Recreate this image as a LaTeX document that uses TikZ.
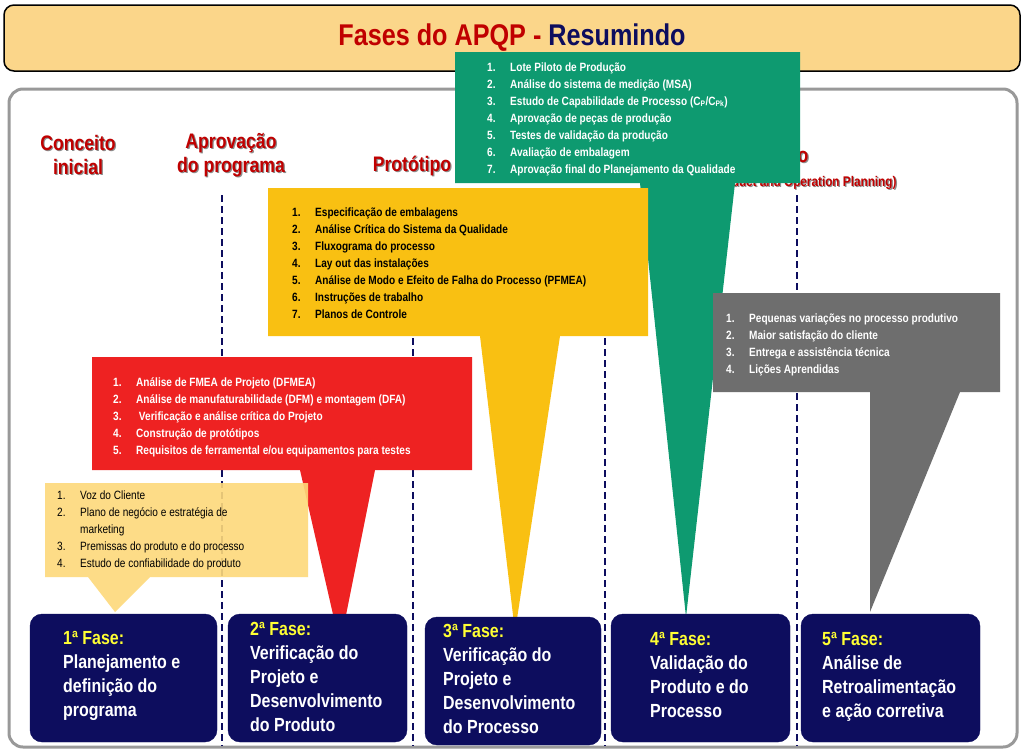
\documentclass[tikz,border=0pt]{standalone}
\usepackage{fontspec}
\setmainfont{Liberation Sans}[FakeStretch=0.84]
\usepackage{array}
\begin{document}
\begin{tikzpicture}[x=1pt,y=-1pt,
  phase/.style={fill=phasebg,rounded corners=12pt,draw=phasebg},
  ptxt/.style={anchor=north west,align=left,text=white,font=\fontsize{19}{24}\selectfont\bfseries,inner sep=0},
  lst/.style={anchor=north west,inner sep=0,font=\fontsize{12}{17}\selectfont\bfseries,text=white},
  head/.style={text=headred,font=\fontsize{21}{24}\selectfont\bfseries,align=center},
  headsh/.style={text=black!45,font=\fontsize{21}{24}\selectfont\bfseries,align=center},
  sep/.style={draw=phasebg,line width=1.6pt,dash pattern=on 7pt off 4pt}]
\definecolor{phasebg}{HTML}{0D0D5E}
\definecolor{headred}{HTML}{C00000}
\definecolor{titlebg}{HTML}{FBD68A}
\definecolor{cy}{HTML}{FDD97A}
\definecolor{cr}{HTML}{EE2222}
\definecolor{co}{HTML}{F9C012}
\definecolor{cg}{HTML}{0E9A70}
\definecolor{cgr}{HTML}{6E6E6E}
\definecolor{fy}{HTML}{FFFF33}
\useasboundingbox (0,0) rectangle (1024,755);
\fill[white] (0,0) rectangle (1024,755);
% title
\node[draw=black,line width=1.5pt,fill=titlebg,rounded corners=10pt,minimum width=1016pt,minimum height=66pt] (title) at (512,38) {};
\node (ttext) at (512,38) {\fontsize{30}{32}\selectfont\bfseries\textcolor{headred}{Fases do APQP - }\textcolor{phasebg}{Resumindo}};
% frame
\node[draw=black!40,line width=3pt,rounded corners=14pt,minimum width=1008pt,minimum height=658pt] (frame) at (513,418) {};
% separators
\foreach \i/\x in {1/222,2/413,3/605,4/797}{
  \coordinate (s\i a) at (\x,195); \coordinate (s\i b) at (\x,746);
  \draw[sep] (s\i a) -- (s\i b);}
% headings
\foreach \s/\st in {1.2/headsh,0/head}{
 \node[\st] (h1) at (78+\s,155+\s) {Conceito\\inicial};
 \node[\st] (h2) at (231+\s,155+\s) {Aprovação\\do programa};
 \node[\st] (h3) at (412+\s,166+\s) {Protótipo};
 \node[\st,anchor=east] (h4) at (812+\s,157+\s) {Lançamento};
 \node[\st,anchor=east,font=\fontsize{14}{16}\selectfont\bfseries] (h5) at (900+\s,183+\s) {(Product and Operation Planning)};
}
% green callout
\fill[cg] (455,52) -- (800,52) -- (800,183) -- (735,183) -- (686,617) -- (640,183) -- (455,183) -- cycle;
\node[lst] (lg) at (487,59) {\begin{tabular}{@{}p{23pt}@{}l@{}}
1.&Lote Piloto de Produção\\
2.&Análise do sistema de medição (MSA)\\
3.&Estudo de Capabilidade de Processo (C\textsubscript{P}/C\textsubscript{Pk})\\
4.&Aprovação de peças de produção\\
5.&Testes de validação da produção\\
6.&Avaliação de embalagem\\
7.&Aprovação final do Planejamento da Qualidade\end{tabular}};
% gray callout
\fill[cgr] (713,293) -- (1000,293) -- (1000,392) -- (960,392) -- (870,612) -- (870,392) -- (713,392) -- cycle;
\node[lst] (lgr) at (726,310) {\begin{tabular}{@{}p{23pt}@{}l@{}}
1.&Pequenas variações no processo produtivo\\
2.&Maior satisfação do cliente\\
3.&Entrega e assistência técnica\\
4.&Lições Aprendidas\end{tabular}};
% orange callout
\fill[co] (268,188) -- (648,188) -- (648,336) -- (560,336) -- (515,632) -- (480,336) -- (268,336) -- cycle;
\node[lst,text=black] (lo) at (292,204) {\begin{tabular}{@{}p{23pt}@{}l@{}}
1.&Especificação de embalagens\\
2.&Análise Crítica do Sistema da Qualidade\\
3.&Fluxograma do processo\\
4.&Lay out das instalações\\
5.&Análise de Modo e Efeito de Falha do Processo (PFMEA)\\
6.&Instruções de trabalho\\
7.&Planos de Controle\end{tabular}};
% red callout
\fill[cr] (92,357) -- (472,357) -- (472,470) -- (375,470) -- (340,645) -- (300,470) -- (92,470) -- cycle;
\node[lst] (lr) at (113,374) {\begin{tabular}{@{}p{23pt}@{}l@{}}
1.&Análise de FMEA de Projeto (DFMEA)\\
2.&Análise de manufaturabilidade (DFM) e montagem (DFA)\\
3.&~Verificação e análise crítica do Projeto\\
4.&Construção de protótipos\\
5.&Requisitos de ferramental e/ou equipamentos para testes\end{tabular}};
% light yellow callout
\fill[cy,opacity=0.9] (45,483) -- (308,483) -- (308,577) -- (150,577) -- (115,612) -- (88,577) -- (45,577) -- cycle;
\node[lst,text=black,font=\fontsize{12}{17}\selectfont] (ly) at (57,487) {\begin{tabular}{@{}p{23pt}@{}l@{}}
1.&Voz do Cliente\\
2.&Plano de negócio e estratégia de\\
&marketing\\
3.&Premissas do produto e do processo\\
4.&Estudo de confiabilidade do produto\end{tabular}};
% phase boxes
\node[phase,minimum width=187pt,minimum height=128pt] (p1) at (123.5,678) {};
\node[phase,minimum width=179pt,minimum height=128pt] (p2) at (317.5,678) {};
\node[phase,minimum width=176pt,minimum height=128pt] (p3) at (513,681) {};
\node[phase,minimum width=179pt,minimum height=128pt] (p4) at (700.5,678) {};
\node[phase,minimum width=179pt,minimum height=128pt] (p5) at (890.5,678) {};
\node[ptxt] (t1) at (63,631) {\textcolor{fy}{1ª Fase:}\\Planejamento e\\definição do\\programa};
\node[ptxt] (t2) at (250,622) {\textcolor{fy}{2ª Fase:}\\Verificação do\\Projeto e\\Desenvolvimento\\do Produto};
\node[ptxt] (t3) at (443,624) {\textcolor{fy}{3ª Fase:}\\Verificação do\\Projeto e\\Desenvolvimento\\do Processo};
\node[ptxt] (t4) at (650,632) {\textcolor{fy}{4ª Fase:}\\Validação do\\Produto e do\\Processo};
\node[ptxt] (t5) at (822,632) {\textcolor{fy}{5ª Fase:}\\Análise de\\Retroalimentação\\e ação corretiva};
\end{tikzpicture}
\end{document}
